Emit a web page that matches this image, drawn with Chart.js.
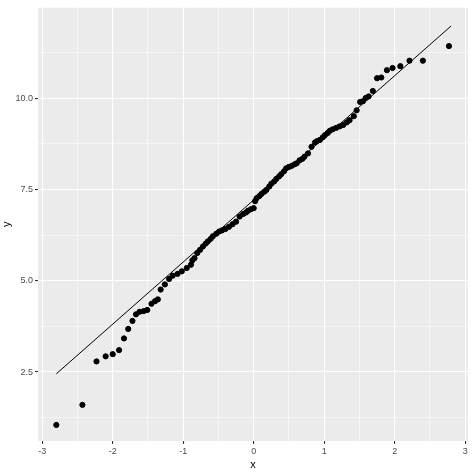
<!DOCTYPE html>
<html><head><meta charset="utf-8">
<script src="https://cdn.jsdelivr.net/npm/chart.js@4"></script>
<style>html,body{margin:0;padding:0;background:#fff}#wrap{width:474px;height:474px}</style>
</head><body><div id="wrap"><canvas id="c"></canvas></div>
<script>
'use strict';

// theoretical quantiles (x) and sample values (y)
const qqX = [-2.80,-2.43,-2.23,-2.10,-2.00,-1.91,-1.84,-1.78,-1.72,-1.67,-1.62,-1.56,-1.51,-1.45,-1.40,-1.36,
  -1.32,-1.26,-1.20,-1.15,-1.08,-1.02,-0.95,-0.89,-0.87,-0.84,-0.80,-0.76,-0.72,-0.68,-0.65,-0.61,-0.58,-0.53,-0.49,
  -0.45,-0.40,-0.35,-0.30,-0.25,-0.20,-0.15,-0.11,-0.08,-0.04,0.00,0.02,0.04,0.08,0.11,0.15,0.18,0.22,0.25,0.29,0.32,
  0.36,0.39,0.43,0.46,0.50,0.54,0.58,0.61,0.65,0.69,0.72,0.77,0.82,0.87,0.90,0.94,0.98,1.01,1.05,1.08,1.12,1.17,1.22,
  1.27,1.32,1.36,1.42,1.46,1.51,1.55,1.59,1.63,1.69,1.75,1.81,1.89,1.97,2.08,2.21,2.40,2.77];
const qqY = [1.05,1.60,2.79,2.93,2.99,3.10,3.42,3.68,3.90,4.08,4.15,4.17,4.20,4.37,4.44,4.49,
  4.76,4.90,5.05,5.14,5.19,5.26,5.35,5.44,5.56,5.62,5.76,5.85,5.94,6.02,6.08,6.15,6.22,6.29,6.35,
  6.38,6.42,6.48,6.55,6.62,6.76,6.83,6.87,6.92,6.96,6.99,7.18,7.26,7.32,7.38,7.44,7.49,7.58,7.66,7.72,7.79,
  7.86,7.92,8.00,8.08,8.12,8.15,8.19,8.22,8.30,8.34,8.40,8.49,8.67,8.79,8.83,8.86,8.93,8.99,9.05,9.11,9.15,9.19,9.23,
  9.27,9.34,9.40,9.51,9.67,9.90,9.92,10.01,10.05,10.20,10.55,10.57,10.77,10.83,10.88,11.03,11.03,11.43];
const lineX = [-2.80, 2.80];
const lineY = [2.45, 11.98];
const xTicks = [-3, -2, -1, 0, 1, 2, 3];
const yTicks = [2.5, 5.0, 7.5, 10.0];

const panelBg = {
  id: 'panelBg',
  beforeDraw(chart) {
    const a = chart.chartArea, ctx = chart.ctx;
    ctx.save(); ctx.fillStyle = '#EBEBEB';
    ctx.fillRect(a.left, a.top, a.right - a.left, a.bottom - a.top);
    ctx.restore();
  }
};

const isMajorX = v => xTicks.some(t => Math.abs(t - v) < 1e-6);
const isMajorY = v => yTicks.some(t => Math.abs(t - v) < 1e-6);
const font = { family: "'Liberation Sans', Arial, sans-serif", size: 9 };

new Chart(document.getElementById('c'), {
  type: 'scatter',
  data: {
    datasets: [
      {
        data: qqX.map((x, i) => ({ x, y: qqY[i] })),
        backgroundColor: '#000', borderColor: '#000', pointRadius: 2.6, pointHoverRadius: 2.6,
      },
      {
        type: 'line',
        data: lineX.map((x, i) => ({ x, y: lineY[i] })),
        borderColor: '#000', borderWidth: 1, pointRadius: 0, fill: false,
      }
    ]
  },
  options: {
    responsive: true, maintainAspectRatio: false, animation: false,
    layout: { padding: { top: 5, right: 6, left: 0, bottom: 2 } },
    plugins: { legend: { display: false }, tooltip: { enabled: false } },
    scales: {
      x: {
        type: 'linear', min: -3.06, max: 3.04,
        afterBuildTicks: s => { s.ticks = []; for (let v = -3; v <= 3; v += 0.5) s.ticks.push({ value: v }); },
        ticks: { color: '#4D4D4D', font, padding: 2, autoSkip: false, maxRotation: 0,
          callback: v => isMajorX(v) ? String(v) : '' },
        grid: {
          color: '#fff', drawOnChartArea: true, tickLength: 3,
          lineWidth: c => c.tick && isMajorX(c.tick.value) ? 1.1 : 0.5,
          tickColor: c => c.tick && isMajorX(c.tick.value) ? '#333' : 'rgba(0,0,0,0)',
        },
        border: { display: false },
        title: { display: true, text: 'x', color: '#000', font: { ...font, size: 11 }, padding: { top: 0, bottom: 0 } }
      },
      y: {
        type: 'linear', min: 0.61, max: 12.49,
        afterBuildTicks: s => { s.ticks = []; for (let v = 1.25; v <= 12.5; v += 1.25) s.ticks.push({ value: v }); },
        afterFit: s => { s.width = 38; },
        ticks: { color: '#4D4D4D', font, padding: 2, autoSkip: false,
          callback: v => isMajorY(v) ? v.toFixed(1) : '' },
        grid: {
          color: '#fff', tickLength: 3,
          lineWidth: c => c.tick && isMajorY(c.tick.value) ? 1.1 : 0.5,
          tickColor: c => c.tick && isMajorY(c.tick.value) ? '#333' : 'rgba(0,0,0,0)',
        },
        border: { display: false },
        title: { display: true, text: 'y', color: '#000', font: { ...font, size: 11 }, padding: { top: 0, bottom: 2 } }
      }
    }
  },
  plugins: [panelBg]
});
</script></body></html>
